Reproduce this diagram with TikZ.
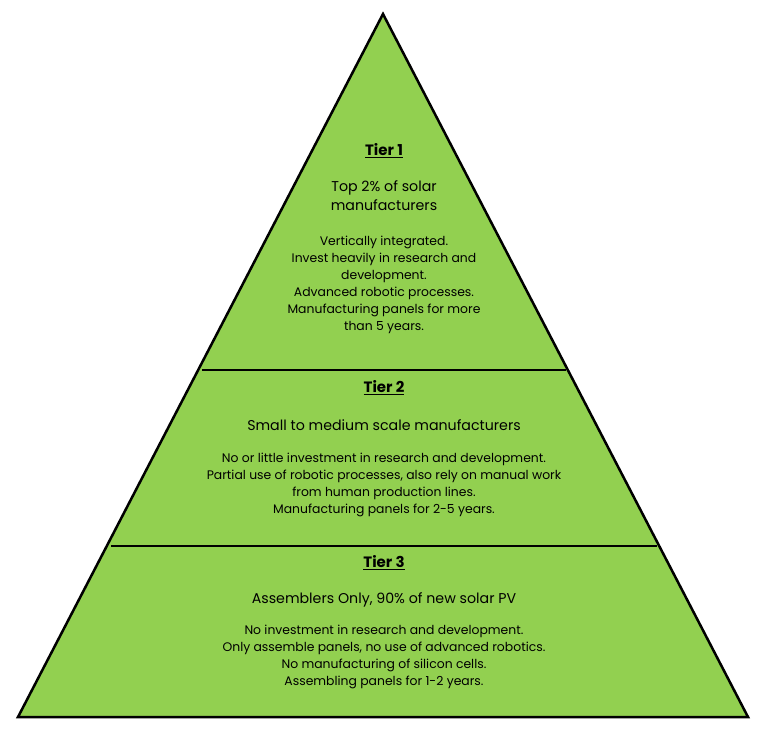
\documentclass[tikz,border=0pt]{standalone}
\usepackage{fontspec}
\setmainfont{Poppins}
\begin{document}
\begin{tikzpicture}[x=1pt,y=-1pt,
  tier/.style={font=\fontsize{15}{17}\selectfont\bfseries, align=center},
  sub/.style={font=\fontsize{14.2}{19}\selectfont, align=center},
  body/.style={font=\fontsize{12.4}{17}\selectfont, align=center}]
\useasboundingbox (0,0) rectangle (768,731);
\definecolor{pyr}{HTML}{92D050}
\coordinate (A) at (383,14);
\coordinate (L) at (18,717);
\coordinate (R) at (748,717);
\draw[line width=2.5pt, fill=pyr, line join=miter] (A) -- (R) -- (L) -- cycle;
\coordinate (d1l) at (202,370); \coordinate (d1r) at (566,370);
\coordinate (d2l) at (111,546); \coordinate (d2r) at (657,546);
\draw[line width=2.5pt] (d1l) -- (d1r);
\draw[line width=2.5pt] (d2l) -- (d2r);
\node[tier] (t1) at (384,151) {\underline{Tier 1}};
\node[sub] (s1) at (384,196) {Top 2\% of solar\\manufacturers};
\node[body] (b1) at (384,285) {Vertically integrated.\\Invest heavily in research and\\development.\\Advanced robotic processes.\\Manufacturing panels for more\\than 5 years.};
\node[tier] (t2) at (384,388) {\underline{Tier 2}};
\node[sub] (s2) at (384,425) {Small to medium scale manufacturers};
\node[body] (b2) at (384,485) {No or little investment in research and development.\\Partial use of robotic processes, also rely on manual work\\from human production lines.\\Manufacturing panels for 2-5 years.};
\node[tier] (t3) at (384,563) {\underline{Tier 3}};
\node[sub] (s3) at (384,600) {Assemblers Only, 90\% of new solar PV};
\node[body] (b3) at (384,657) {No investment in research and development.\\Only assemble panels, no use of advanced robotics.\\No manufacturing of silicon cells.\\Assembling panels for 1-2 years.};
\end{tikzpicture}
\end{document}
